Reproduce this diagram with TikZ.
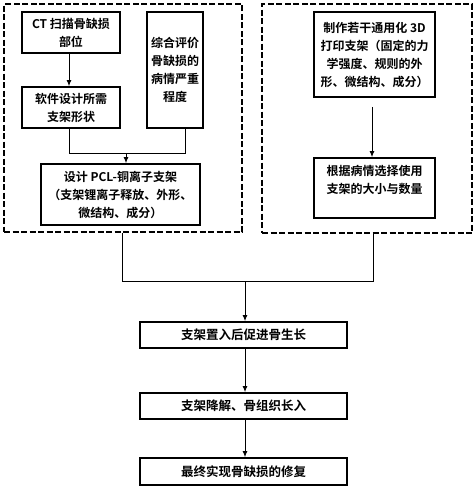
\documentclass[tikz,border=0pt]{standalone}
\usepackage{fontspec}
\setmainfont{Noto Sans CJK SC}[BoldFont={* Bold}]
\usetikzlibrary{arrows.meta}
\begin{document}
\begin{tikzpicture}[x=1pt,y=-1pt,
  box/.style={draw,line width=1.8pt,inner sep=0pt,align=center,font=\bfseries\fontsize{12}{18}\selectfont},
  group/.style={draw,line width=2.3pt,dash pattern=on 6pt off 2.5pt,inner sep=0pt},
  conn/.style={line width=0.9pt},
  arr/.style={conn,-{Latex[length=6pt,width=5pt]}}]
\useasboundingbox (0,0) rectangle (474,488);
% groups
\node[group,minimum width=238pt,minimum height=228pt] (lg) at (123,118) {};
\node[group,minimum width=210pt,minimum height=229pt] (rg) at (367,118.5) {};
% left group boxes
\node[box,minimum width=98pt,minimum height=41pt] (ct) at (71,32.5) {CT 扫描骨缺损\\部位};
\node[box,minimum width=98pt,minimum height=41pt] (soft) at (71,107.5) {软件设计所需\\支架形状};
\node[box,minimum width=56pt,minimum height=116pt] (eval) at (175,70) {综合评价\\骨缺损的\\病情严重\\程度};
\node[box,minimum width=159pt,minimum height=61pt] (pcl) at (120.5,194.5) {设计 PCL-铜离子支架\\（支架锂离子释放、外形、\\微结构、成分）};
% right group boxes
\node[box,minimum width=121pt,minimum height=85pt] (make) at (374.5,54.5) {制作若干通用化 3D\\打印支架（固定的力\\学强度、规则的外\\形、微结构、成分）};
\node[box,minimum width=121pt,minimum height=60pt] (choose) at (374.5,188) {根据病情选择使用\\支架的大小与数量\\\mbox{}};
% bottom chain
\node[box,minimum width=207pt,minimum height=26pt,font=\bfseries\fontsize{12.5}{18}\selectfont] (b1) at (243.5,335) {支架置入后促进骨生长};
\node[box,minimum width=207pt,minimum height=26pt,font=\bfseries\fontsize{12.5}{18}\selectfont] (b2) at (243.5,406) {支架降解、骨组织长入};
\node[box,minimum width=207pt,minimum height=27pt,font=\bfseries\fontsize{12.5}{18}\selectfont] (b3) at (243.5,471.5) {最终实现骨缺损的修复};
% connectors
\coordinate (j1) at (126,153);
\coordinate (j2) at (245,281);
\draw[arr] (ct.south -| 69,0) -- (soft.north -| 69,0);
\draw[conn] (soft.south -| 69,0) |- (j1);
\draw[conn] (eval.south -| 185,0) |- (j1);
\draw[arr] (j1) -- (pcl.north -| j1);
\draw[arr,shorten <=9pt] (make.south -| 372,0) -- (choose.north -| 372,0);
\draw[conn] (lg.south -| 122,0) |- (j2);
\draw[conn] (rg.south -| 373,0) |- (j2);
\draw[arr] (j2) -- (b1.north -| j2);
\draw[arr] (b1.south -| j2) -- (b2.north -| j2);
\draw[arr] (b2.south -| j2) -- (b3.north -| j2);
\end{tikzpicture}
\end{document}
